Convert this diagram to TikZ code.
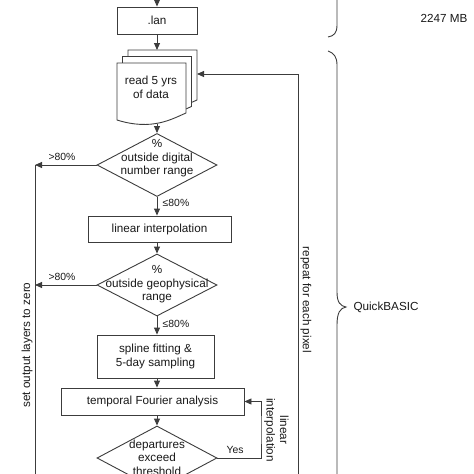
\documentclass[tikz,border=0pt]{standalone}
\usepackage{fontspec}
\setmainfont{Liberation Sans}
\usetikzlibrary{shapes.geometric,arrows.meta}
\definecolor{linec}{RGB}{60,60,60}
\definecolor{txtc}{RGB}{25,25,25}
\begin{document}
\begin{tikzpicture}[x=1pt,y=-1pt,
  every node/.style={text=txtc, font=\fontsize{11.7}{13.5}\selectfont},
  small/.style={font=\fontsize{10.4}{12}\selectfont},
  ln/.style={draw=linec, line width=0.9pt},
  arr/.style={ln, -{Triangle[length=7pt,width=6pt]}},
  box/.style={ln, fill=white, inner sep=0pt, align=center},
  dia/.style={ln, fill=white, diamond, inner sep=0pt, minimum width=120pt, minimum height=63pt},
  txt/.style={align=center, inner sep=0pt},
  docpage/.style={ln, fill=white}
]
\useasboundingbox (0,0) rectangle (474,474);

% top
\coordinate (topin) at (157,0);
\node[box, minimum width=80pt, minimum height=27pt] (lan) at (157,20.5) {.lan};

% document stack
\foreach \dx/\dy in {11/-13, 5.5/-6.5, 0/0}{
  \draw[docpage, shift={(117+\dx,63+\dy)}] (0,0) -- (69,0) -- (69,50)
    .. controls (55,56) and (35,68) .. (0,57) -- cycle;
}
\coordinate (doctop) at (157,50);
\coordinate (docbot) at (157,123.5);
\coordinate (docin) at (197,74);
\node[txt] (docs) at (151,87.5) {read 5 yrs\\of data};

% diamonds and boxes
\node[dia] (d1) at (157,165) {};
\node[txt] (d1t) at (157,158.5) {\%\\outside digital\\number range};
\node[box, minimum width=143pt, minimum height=26pt] (lin) at (159.5,229) {linear interpolation};
\node[dia, minimum height=62pt] (d2) at (157,285) {};
\node[txt] (d2t) at (157,284.5) {\%\\outside geophysical\\range};
\node[box, minimum width=117pt, minimum height=43pt] (spl) at (155.5,356.5) {spline fitting \&\\5-day sampling};
\node[box, minimum width=183pt, minimum height=27pt] (four) at (152.5,401.5) {temporal Fourier analysis};
\node[dia, minimum height=64pt] (d3) at (157,458) {};
\node[txt] (d3t) at (157,457.5) {departures\\exceed\\threshold};

% main arrows
\draw[arr] (topin) -- (lan.north);
\draw[arr] (lan.south) -- (doctop);
\draw[arr] (docbot) -- (d1.north);
\draw[arr] (d1.south) -- (d1.south |- lin.north);
\draw[arr] (d1.south |- lin.south) -- (d2.north);
\draw[arr] (d2.south) -- (d2.south |- spl.north);
\draw[arr] (d2.south |- spl.south) -- (d2.south |- four.north);
\draw[arr] (d2.south |- four.south) -- (d3.north);

% left branch
\coordinate (lefttop) at (35,165);
\coordinate (leftbot) at (35,474);
\draw[ln] (lefttop) -- (leftbot);
\draw[arr] (d1.west) -- (lefttop);
\draw[arr] (d2.west) -- (d2.west -| lefttop);
\node[small] (g1) at (62,157) {>80\%};
\node[small] (g2) at (62,277) {>80\%};
\node[small] (l1) at (176,203) {≤80\%};
\node[small] (l2) at (176,324) {≤80\%};
\node[rotate=90] (setzero) at (27,345) {set output layers to zero};

% yes loop
\coordinate (yesx) at (261,430);
\draw[arr] (d3.east) -| (yesx) |- (four.east);
\node[small] (yes) at (235,450) {Yes};
\node[rotate=-90, align=center, inner sep=0pt] (linint) at (276.5,430) {linear\\interpolation};

% repeat loop
\coordinate (loopb) at (298,474);
\coordinate (loopt) at (298,74);
\draw[arr] (loopb) -- (loopt) -- (docin);
\node[rotate=-90] (rep) at (306,300) {repeat for each pixel};

% braces
\draw[ln] (337,0) -- (337,25) .. controls (337,33) and (334,36) .. (328,37);
\draw[ln] (328,51) .. controls (334,53) and (337,57) .. (337,65) -- (337,292)
  .. controls (337,302) and (340,306) .. (346,307)
  .. controls (340,308) and (337,313) .. (337,325) -- (337,474);
\node[anchor=west] (qb) at (350,307) {QuickBASIC};
\node (mb) at (444,18) {2247 MB};
\end{tikzpicture}
\end{document}
